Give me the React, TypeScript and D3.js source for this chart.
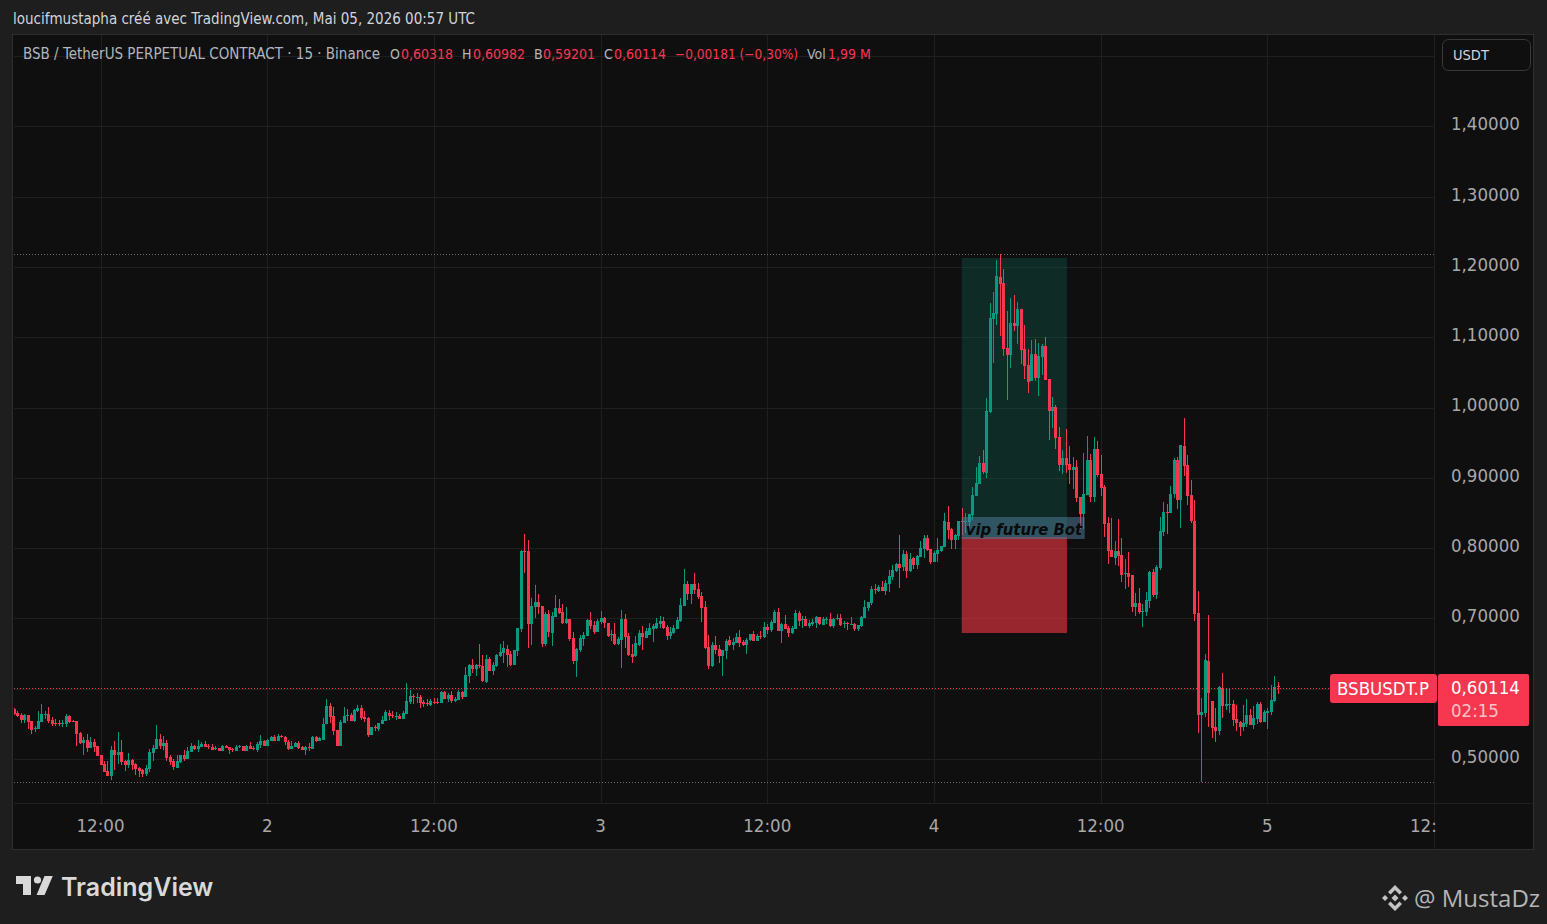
import { useEffect, useRef } from "react";
import * as d3 from "d3";

type Ohlc = [number, number, number, number];

// 15 min candles, open / high / low / close
const day1: Ohlc[] = [
  [.5712,.5731,.5627,.5636],[.5655,.5683,.5603,.5612],[.5627,.5655,.5513,.5555],[.5555,.5641,.5508,.5627],[.5627,.5627,.5427,.5522],[.5541,.5541,.5356,.5413],[.5432,.5470,.5389,.5442],[.5427,.5683,.5427,.5541],
  [.5527,.5783,.5527,.5641],[.5631,.5683,.5570,.5641],[.5641,.5740,.5513,.5541],[.5555,.5598,.5470,.5499],[.5513,.5570,.5470,.5499],[.5508,.5555,.5470,.5499],[.5494,.5555,.5456,.5513],[.5499,.5641,.5456,.5612],
  [.5612,.5627,.5513,.5527],[.5541,.5555,.5522,.5527],[.5541,.5541,.5186,.5356],[.5371,.5385,.5214,.5228],[.5228,.5314,.5058,.5271],[.5271,.5356,.5100,.5157],[.5157,.5314,.5157,.5243],[.5243,.5285,.5100,.5172],
  [.5186,.5186,.5044,.5044],[.5058,.5058,.4916,.4916],[.4930,.4972,.4816,.4816],[.4830,.4972,.4759,.4759],[.4759,.5186,.4702,.5129],[.5129,.5257,.4844,.5058],[.5058,.5385,.4930,.5100],[.5100,.5271,.4916,.4958],
  [.4972,.4987,.4830,.4916],[.4916,.5086,.4873,.4987],[.4987,.5001,.4844,.4916],[.4930,.4944,.4773,.4859],[.4873,.4887,.4745,.4830],[.4844,.4859,.4745,.4788],[.4788,.4916,.4759,.4873],[.4859,.5143,.4816,.5100],
  [.5086,.5200,.4972,.5157],[.5143,.5484,.5143,.5285],[.5285,.5356,.5143,.5186],[.5186,.5328,.5129,.5228],[.5228,.5271,.4972,.5015],[.5029,.5058,.4916,.4958],[.4972,.5001,.4844,.4887],[.4873,.5058,.4873,.4972],
  [.4958,.5058,.4944,.5058],[.5058,.5129,.4972,.5001],[.5001,.5172,.5001,.5115],[.5100,.5228,.5100,.5186],[.5186,.5200,.5129,.5143],[.5143,.5271,.5100,.5186],[.5172,.5243,.5172,.5214],[.5214,.5257,.5172,.5172],
  [.5186,.5214,.5143,.5172],[.5172,.5214,.5129,.5129],[.5143,.5186,.5129,.5157],[.5157,.5157,.5115,.5115],[.5115,.5200,.5115,.5186],[.5186,.5200,.5157,.5157],[.5172,.5172,.5072,.5129],[.5143,.5157,.5100,.5129],
  [.5115,.5200,.5115,.5172],[.5172,.5200,.5157,.5186],[.5186,.5186,.5115,.5115],[.5115,.5200,.5115,.5186],[.5186,.5243,.5143,.5143],[.5157,.5186,.5129,.5143],[.5129,.5243,.5100,.5214],[.5200,.5342,.5157,.5257],
  [.5257,.5271,.5186,.5186],
];

const day2: Ohlc[] = [
  [.5186,.5285,.5186,.5271],[.5257,.5328,.5257,.5314],[.5314,.5342,.5257,.5257],[.5257,.5356,.5257,.5328],[.5328,.5342,.5300,.5314],[.5314,.5328,.5200,.5243],[.5243,.5271,.5129,.5143],[.5143,.5257,.5143,.5186],
  [.5172,.5243,.5172,.5228],[.5228,.5257,.5143,.5157],[.5172,.5186,.5129,.5129],[.5129,.5186,.5058,.5172],[.5172,.5228,.5115,.5162],[.5143,.5328,.5143,.5314],[.5314,.5328,.5243,.5257],[.5257,.5314,.5257,.5300],
  [.5271,.5584,.5271,.5499],[.5499,.5854,.5499,.5754],[.5754,.5797,.5513,.5598],[.5612,.5740,.5342,.5399],[.5413,.5413,.5185,.5185],[.5185,.5555,.5185,.5526],[.5512,.5740,.5512,.5612],[.5612,.5711,.5541,.5626],
  [.5626,.5654,.5541,.5541],[.5541,.5711,.5526,.5697],[.5683,.5768,.5669,.5725],[.5725,.5768,.5555,.5583],[.5598,.5683,.5526,.5569],[.5583,.5598,.5313,.5342],[.5342,.5455,.5342,.5455],[.5455,.5484,.5399,.5441],
  [.5427,.5512,.5399,.5512],[.5498,.5612,.5498,.5555],[.5541,.5697,.5541,.5669],[.5654,.5697,.5555,.5612],[.5626,.5683,.5583,.5612],[.5598,.5669,.5555,.5612],[.5612,.5640,.5569,.5569],[.5569,.5683,.5569,.5654],
  [.5640,.6081,.5640,.5825],[.5811,.5982,.5782,.5896],[.5896,.5925,.5782,.5882],[.5868,.5939,.5797,.5882],[.5882,.5910,.5725,.5797],[.5811,.5839,.5740,.5782],[.5797,.5853,.5754,.5782],[.5768,.5853,.5754,.5825],
  [.5811,.5868,.5782,.5797],[.5811,.5868,.5782,.5797],[.5797,.5967,.5797,.5953],[.5953,.5967,.5853,.5853],[.5853,.5939,.5811,.5910],[.5910,.5967,.5797,.5825],[.5825,.5882,.5811,.5853],[.5839,.5982,.5839,.5953],
  [.5953,.5967,.5853,.5882],[.5883,.6309,.5883,.6196],[.6182,.6352,.6082,.6338],[.6338,.6423,.6224,.6281],[.6281,.6352,.6182,.6338],[.6338,.6637,.6295,.6324],[.6324,.6480,.6096,.6110],[.6096,.6480,.6082,.6423],
  [.6423,.6452,.6253,.6253],[.6253,.6381,.6196,.6338],[.6324,.6494,.6309,.6480],[.6466,.6637,.6452,.6523],[.6508,.6679,.6366,.6580],[.6565,.6622,.6309,.6480],[.6494,.6537,.6324,.6338],[.6338,.6551,.6338,.6551],
  [.6537,.6864,.6466,.6864],[.6850,.7973,.6807,.7959],[.7959,.8201,.7646,.7945],[.7959,.8116,.6580,.6921],[.6921,.7291,.6622,.7177],[.7163,.7476,.7006,.7234],[.7234,.7348,.7063,.7163],[.7177,.7177,.6594,.6637],
  [.6637,.7092,.6608,.7063],[.7063,.7120,.6736,.6807],[.6793,.7092,.6608,.7035],[.7020,.7333,.7020,.7149],[.7149,.7277,.7063,.7078],[.7092,.7205,.6921,.6935],[.6935,.7163,.6921,.6992],[.6992,.6992,.6679,.6708],
  [.6722,.6807,.6352,.6395],[.6395,.6580,.6167,.6565],[.6551,.6765,.6523,.6722],[.6708,.6807,.6608,.6765],[.6750,.6992,.6750,.6978],[.6978,.7092,.6850,.6893],[.6907,.6964,.6779,.6807],[.6807,.6992,.6807,.6964],
];

const day3: Ohlc[] = [
  [.6949,.7106,.6921,.7006],[.7006,.7020,.6864,.6935],[.6935,.6935,.6736,.6750],[.6765,.6836,.6679,.6779],[.6779,.6935,.6622,.6637],[.6637,.6736,.6622,.6708],[.6693,.7120,.6295,.6992],[.6992,.7063,.6580,.6736],
  [.6750,.6793,.6466,.6480],[.6494,.6637,.6366,.6452],[.6466,.6750,.6452,.6651],[.6622,.6836,.6608,.6793],[.6793,.6893,.6551,.6736],[.6722,.6864,.6722,.6821],[.6765,.6935,.6765,.6864],[.6850,.6921,.6665,.6892],
  [.6864,.7006,.6850,.6935],[.6921,.7035,.6864,.6964],[.6964,.7021,.6850,.6864],[.6878,.6907,.6693,.6750],[.6750,.6878,.6708,.6807],[.6793,.6907,.6779,.6864],[.6850,.7021,.6850,.6978],[.6964,.7291,.6949,.7191],
  [.7177,.7703,.7177,.7490],[.7490,.7533,.7262,.7348],[.7348,.7490,.7205,.7490],[.7490,.7646,.7348,.7404],[.7419,.7504,.7277,.7305],[.7319,.7376,.6949,.7149],[.7163,.7248,.6565,.6580],[.6594,.6765,.6281,.6324],
  [.6324,.6665,.6310,.6622],[.6622,.6750,.6494,.6551],[.6565,.6622,.6366,.6466],[.6466,.6551,.6181,.6551],[.6537,.6708,.6423,.6679],[.6693,.6750,.6608,.6622],[.6622,.6722,.6551,.6665],[.6651,.6793,.6651,.6736],
  [.6736,.6836,.6594,.6651],[.6665,.6693,.6608,.6622],[.6622,.6722,.6494,.6693],[.6693,.6779,.6679,.6779],[.6779,.6821,.6679,.6679],[.6679,.6779,.6679,.6750],[.6750,.6821,.6708,.6736],[.6736,.6949,.6722,.6878],
  [.6878,.6921,.6779,.6836],[.6836,.6978,.6807,.6949],[.6935,.7120,.6935,.7092],[.7092,.7149,.6821,.6821],[.6821,.6935,.6651,.6921],[.6921,.7049,.6850,.6850],[.6864,.6892,.6736,.6793],[.6793,.6892,.6779,.6864],
  [.6850,.7120,.6850,.7077],[.7077,.7106,.6892,.6964],[.6978,.7035,.6864,.6992],[.6992,.7035,.6892,.6892],[.6892,.6978,.6864,.6935],[.6921,.6992,.6892,.6949],[.6935,.7035,.6864,.7021],[.7021,.7021,.6907,.6921],
  [.6907,.7021,.6907,.6992],[.6978,.7021,.6921,.6992],[.6992,.7077,.6878,.6892],[.6892,.7006,.6864,.6992],[.6992,.7063,.6978,.7006],[.7006,.7063,.6892,.6907],[.6921,.6964,.6864,.6935],[.6935,.6949,.6836,.6921],
  [.6907,.7021,.6907,.6921],[.6921,.6935,.6821,.6850],[.6850,.6907,.6821,.6907],[.6892,.7035,.6878,.7021],[.7006,.7262,.7006,.7163],[.7149,.7234,.7106,.7234],[.7220,.7461,.7191,.7419],[.7419,.7490,.7348,.7404],
  [.7390,.7475,.7376,.7447],[.7447,.7533,.7390,.7390],[.7390,.7547,.7333,.7504],[.7490,.7689,.7376,.7603],[.7589,.7760,.7547,.7689],[.7675,.7788,.7660,.7774],[.7774,.8186,.7433,.7717],[.7731,.7973,.7675,.7916],
  [.7916,.7959,.7575,.7675],[.7675,.7931,.7660,.7845],[.7859,.7874,.7703,.7760],[.7760,.7902,.7703,.7888],[.7874,.8101,.7874,.8002],[.7987,.8186,.7859,.8144],[.8144,.8186,.7959,.7973],[.7987,.7987,.7774,.7803],
];

const day4: Ohlc[] = [
  [.7803,.7959,.7803,.7931],[.7916,.8144,.7803,.7973],[.7959,.8030,.7945,.8030],[.8016,.8499,.8016,.8386],[.8371,.8599,.8130,.8258],[.8272,.8286,.7987,.8115],[.8115,.8201,.7987,.8186],[.8172,.8386,.8115,.8386],
  [.8387,.8572,.8188,.8373],[.8373,.8496,.8211,.8387],[.8373,.8487,.8259,.8487],[.8472,.8870,.8401,.8757],[.8742,.9155,.8742,.8927],[.8913,.9311,.8913,.9212],[.9212,.9397,.9055,.9084],[.9070,1.0136,.8999,.9951],
  [.9937,1.1487,.9923,1.1273],[1.1259,1.1643,1.0634,1.1345],[1.1330,1.2098,1.1174,1.1871],[1.1856,1.2184,1.1018,1.1757],[1.1771,1.1970,1.0733,1.0833],[1.0847,1.1373,1.0107,1.0747],[1.0747,1.1558,1.0563,1.1202],[1.1202,1.1601,1.1089,1.1160],
  [1.1160,1.1501,1.0904,1.1401],[1.1401,1.1401,1.0619,1.0818],[1.0833,1.1174,1.0406,1.0591],[1.0605,1.0833,1.0207,1.0363],[1.0378,1.0961,1.0378,1.0762],[1.0762,1.0975,1.0378,1.0420],[1.0420,1.0918,1.0164,1.0733],[1.0719,1.0904,1.0463,1.0875],
  [1.0875,1.1003,1.0392,1.0392],[1.0406,1.0406,.9539,.9951],[.9951,1.0150,.9709,1.0008],[1.0008,1.0036,.9411,.9567],[.9581,.9724,.9098,.9183],[.9182,.9396,.9054,.9282],[.9282,.9694,.9069,.9182],[.9197,.9452,.8912,.9111],
  [.9111,.9296,.8841,.9154],[.9154,.9253,.8656,.8713],[.8727,.8727,.8272,.8486],[.8486,.9353,.8272,.8770],[.8756,.9595,.8756,.9253],[.9253,.9339,.8656,.8727],[.8727,.9580,.8656,.9410],[.9410,.9524,.9012,.9040],
  [.9054,.9325,.8742,.8855],[.8870,.8898,.8159,.8343],[.8358,.8443,.7775,.7960],[.7974,.8429,.7874,.7874],[.7860,.8102,.7760,.7960],[.7960,.8414,.7746,.7888],[.7903,.8144,.7519,.7618],[.7632,.7846,.7419,.7647],
  [.7647,.7945,.7448,.7590],[.7618,.7618,.7092,.7163],[.7163,.7362,.7035,.7220],[.7220,.7433,.7064,.7092],[.7092,.7206,.6879,.7106],[.7092,.7377,.7035,.7263],[.7249,.7675,.7149,.7661],[.7661,.7704,.7305,.7334],
  [.7334,.7760,.7277,.7732],[.7718,.8443,.7689,.8244],[.8230,.8656,.8173,.8514],[.8514,.8628,.8201,.8500],[.8500,.8884,.8500,.8770],[.8770,.9282,.8713,.9253],[.9253,.9296,.8557,.8685],[.8685,.9467,.8286,.9467],
  [.9452,.9851,.9026,.9168],[.9182,.9325,.8614,.8742],[.8756,.8969,.8358,.8386],[.8386,.8685,.6964,.7064],[.7078,.7391,.5371,.5627],[.5627,.5869,.4675,.5670],[.5656,.6495,.5599,.6410],[.6395,.7049,.5457,.5940],
  [.5826,.5826,.5300,.5443],[.5457,.5727,.5243,.5400],[.5400,.6040,.5343,.6026],[.6011,.6225,.5585,.5755],[.5755,.6011,.5699,.5784],[.5770,.5997,.5656,.5784],[.5784,.5841,.5471,.5556],[.5571,.5770,.5400,.5514],
  [.5528,.5542,.5329,.5457],[.5457,.5770,.5400,.5514],[.5500,.5855,.5457,.5627],[.5627,.5713,.5485,.5485],[.5485,.5755,.5428,.5585],[.5571,.5812,.5500,.5784],[.5784,.5812,.5514,.5528],[.5528,.5699,.5528,.5670],
];

const day5: Ohlc[] = [
  [.5656,.5727,.5428,.5684],[.5670,.6054,.5627,.5841],[.5826,.6182,.5812,.6026],[.60318,.60982,.59201,.60114],
];

const priceTicks = [0.5, 0.6, 0.7, 0.8, 0.9, 1.0, 1.1, 1.2, 1.3, 1.4];
const priceLabelTicks = [0.5, 0.7, 0.8, 0.9, 1.0, 1.1, 1.2, 1.3, 1.4];
const timeBars = [25, 73, 121, 169, 217, 265, 313, 361, 409];
const timeLabels = ["12:00", "2", "12:00", "3", "12:00", "4", "12:00", "5", "12:00"];

// long position drawing
const positionBars = [273, 303.3];
const targetPrice = 1.2127;
const entryPrice = 0.8158;
const stopPrice = 0.6792;

const legend = [
  { x: 390, text: "O", red: false }, { x: 401, text: "0,60318", red: true },
  { x: 462, text: "H", red: false }, { x: 473, text: "0,60982", red: true },
  { x: 534, text: "B", red: false }, { x: 543, text: "0,59201", red: true },
  { x: 604, text: "C", red: false }, { x: 614, text: "0,60114", red: true },
  { x: 675, text: "−0,00181 (−0,30%)", red: true, length: 123 },
  { x: 807, text: "Vol", red: false }, { x: 828, text: "1,99 M", red: true },
];

const GREEN = "#089981";
const RED = "#f7374f";
const FONT = "'DejaVu Sans', sans-serif";

export default function App() {
  const ref = useRef<SVGSVGElement>(null);

  useEffect(() => {
    if (!ref.current) return;
    const svg = d3.select(ref.current);
    svg.selectAll("*").remove();
    svg.style("font-stretch", "condensed");

    const width = 1547;
    const height = 924;
    const pane = { left: 14, top: 35, right: 1434, bottom: 803 };

    const candles = [...day1, ...day2, ...day3, ...day4, ...day5];

    const x = d3.scaleLinear().domain([25, 409]).range([100.5, 1434]);
    const y = d3.scaleLinear().domain([0.5, 1.4]).range([759, 126.3]);

    // Background
    svg.append("rect").attr("width", width).attr("height", height).attr("fill", "#1e1e1e");
    svg.append("rect")
      .attr("x", 12.5).attr("y", 34.5).attr("width", 1521).attr("height", 815)
      .attr("fill", "#0f0f0f").attr("stroke", "#2e2e2e");

    svg.append("clipPath").attr("id", "pane")
      .append("rect")
      .attr("x", pane.left).attr("y", pane.top)
      .attr("width", pane.right - pane.left).attr("height", pane.bottom - pane.top);
    svg.append("clipPath").attr("id", "timeaxis")
      .append("rect")
      .attr("x", pane.left).attr("y", pane.bottom)
      .attr("width", 1436 - pane.left).attr("height", 46);

    const plot = svg.append("g").attr("clip-path", "url(#pane)");

    // Grid
    plot.append("g").selectAll("line")
      .data(timeBars.slice(0, 8))
      .join("line")
      .attr("x1", d => Math.round(x(d)) + 0.5).attr("x2", d => Math.round(x(d)) + 0.5)
      .attr("y1", pane.top).attr("y2", pane.bottom)
      .attr("stroke", "#1f1f1f");

    plot.append("g").selectAll("line")
      .data([...priceTicks, 1.5])
      .join("line")
      .attr("x1", pane.left).attr("x2", pane.right)
      .attr("y1", d => Math.round(y(d)) + 0.5).attr("y2", d => Math.round(y(d)) + 0.5)
      .attr("stroke", "#1f1f1f");

    // Position tool
    const boxLeft = x(positionBars[0]);
    const boxWidth = x(positionBars[1]) - boxLeft;
    plot.append("rect")
      .attr("x", boxLeft).attr("y", y(targetPrice))
      .attr("width", boxWidth).attr("height", y(entryPrice) - y(targetPrice))
      .attr("fill", GREEN).attr("fill-opacity", 0.2);
    plot.append("rect")
      .attr("x", boxLeft).attr("y", y(entryPrice))
      .attr("width", boxWidth).attr("height", y(stopPrice) - y(entryPrice))
      .attr("fill", "#f23645").attr("fill-opacity", 0.6);

    // Candles
    const bars = plot.append("g").attr("shape-rendering", "crispEdges")
      .selectAll("g")
      .data(candles)
      .join("g")
      .attr("fill", d => (d[3] >= d[0] ? GREEN : RED));

    bars.append("rect")
      .attr("x", (d, i) => Math.round(x(i)))
      .attr("y", d => y(d[1]))
      .attr("width", 1)
      .attr("height", d => y(d[2]) - y(d[1]));

    bars.append("rect")
      .attr("x", (d, i) => Math.round(x(i)) - 1)
      .attr("y", d => Math.round(y(Math.max(d[0], d[3]))))
      .attr("width", 3)
      .attr("height", d => Math.max(1, Math.round(Math.abs(y(d[0]) - y(d[3])))));

    // Label of the position tool, drawn over the candles
    plot.append("rect")
      .attr("x", boxLeft).attr("y", 517)
      .attr("width", 123).attr("height", 22)
      .attr("fill", "#4f7f9f").attr("fill-opacity", 0.5);
    plot.append("text")
      .attr("x", boxLeft + 4).attr("y", 535)
      .attr("font-family", FONT)
      .attr("font-style", "italic").attr("font-weight", "bold").attr("font-size", 16.5)
      .attr("fill", "#0a0a0a")
      .text("vip future Bot");

    // High, low and last price lines
    const last = candles[candles.length - 1];
    const guides = [
      { price: d3.max(candles, d => d[1]) as number, color: "#6e6e6e" },
      { price: d3.min(candles, d => d[2]) as number, color: "#6e6e6e" },
      { price: last[3], color: RED },
    ];
    svg.append("g").attr("shape-rendering", "crispEdges").selectAll("line")
      .data(guides)
      .join("line")
      .attr("x1", pane.left).attr("x2", pane.right)
      .attr("y1", d => Math.round(y(d.price)) + 0.5).attr("y2", d => Math.round(y(d.price)) + 0.5)
      .attr("stroke", d => d.color)
      .attr("stroke-dasharray", "1 2");

    // Axis separators
    svg.append("line")
      .attr("x1", 1434.5).attr("x2", 1434.5).attr("y1", pane.top).attr("y2", 849)
      .attr("stroke", "#1f1f1f");
    svg.append("line")
      .attr("x1", pane.left).attr("x2", 1533).attr("y1", pane.bottom + 0.5).attr("y2", pane.bottom + 0.5)
      .attr("stroke", "#1f1f1f");

    // Price axis
    svg.append("g")
      .attr("transform", "translate(1451,-2.5)")
      .call(
        d3.axisRight(y)
          .tickValues(priceLabelTicks)
          .tickSize(0)
          .tickPadding(0)
          .tickFormat(d => (d as number).toFixed(5).replace(".", ","))
      )
      .call(g => g.select(".domain").remove())
      .selectAll("text")
      .attr("font-family", FONT).attr("font-size", 18.5)
      .attr("fill", "#a8a8a8");

    // Time axis
    svg.append("g")
      .attr("clip-path", "url(#timeaxis)")
      .append("g")
      .attr("transform", "translate(-0.5,819)")
      .call(
        d3.axisBottom(x)
          .tickValues(timeBars)
          .tickSize(0)
          .tickPadding(0)
          .tickFormat((d, i) => timeLabels[i])
      )
      .call(g => g.select(".domain").remove())
      .selectAll("text")
      .attr("font-family", FONT).attr("font-size", 18.5)
      .attr("fill", "#a8a8a8");

    // Last price labels
    svg.append("rect")
      .attr("x", 1330).attr("y", 674).attr("width", 107).attr("height", 29).attr("rx", 3)
      .attr("fill", RED);
    svg.append("text")
      .attr("x", 1337).attr("y", 695)
      .attr("font-family", FONT).attr("font-size", 18.5).attr("fill", "#fff")
      .text("BSBUSDT.P");
    svg.append("rect")
      .attr("x", 1438).attr("y", 674).attr("width", 91).attr("height", 52).attr("rx", 2)
      .attr("fill", RED);
    svg.append("text")
      .attr("x", 1451).attr("y", 693.5)
      .attr("font-family", FONT).attr("font-size", 18.5).attr("fill", "#fff")
      .text(last[3].toFixed(5).replace(".", ","));
    svg.append("text")
      .attr("x", 1451).attr("y", 716.5)
      .attr("font-family", FONT).attr("font-size", 18.5).attr("fill", "#fff").attr("fill-opacity", 0.7)
      .text("02:15");

    // Currency button
    svg.append("rect")
      .attr("x", 1442.5).attr("y", 39.5).attr("width", 88).attr("height", 31).attr("rx", 6)
      .attr("fill", "#0f0f0f").attr("stroke", "#3a3a3a");
    svg.append("text")
      .attr("x", 1453).attr("y", 60)
      .attr("font-family", FONT).attr("font-size", 14.5).attr("fill", "#d1d4dc")
      .text("USDT");

    // Header and legend
    svg.append("text")
      .attr("x", 13).attr("y", 24)
      .attr("font-family", FONT).attr("font-size", 15).attr("fill", "#d1d4dc")
      .text("loucifmustapha créé avec TradingView.com, Mai 05, 2026 00:57 UTC");
    svg.append("text")
      .attr("x", 23).attr("y", 59)
      .attr("font-family", FONT).attr("font-size", 15).attr("fill", "#b2b5be")
      .text("BSB / TetherUS PERPETUAL CONTRACT · 15 · Binance");
    const items = svg.append("g").selectAll("text")
      .data(legend)
      .join("text")
      .attr("x", d => d.x).attr("y", 59)
      .attr("font-family", FONT).attr("font-size", 14)
      .attr("fill", d => (d.red ? RED : "#b2b5be"))
      .text(d => d.text);
    items.filter(d => d.length !== undefined)
      .attr("textLength", d => d.length as number)
      .attr("lengthAdjust", "spacingAndGlyphs");

    // TradingView logo
    const logo = svg.append("g").attr("fill", "#d9d9d9");
    logo.append("path").attr("d", "M16 876H31V895H23V884H16Z");
    logo.append("circle").attr("cx", 37.5).attr("cy", 880).attr("r", 3.6);
    logo.append("path").attr("d", "M44.5 876H52.8L44.6 895H36.6Z");
    logo.append("text")
      .attr("x", 61).attr("y", 896)
      .attr("font-family", "Inter, sans-serif").attr("font-weight", 600).attr("font-size", 25)
      .style("font-stretch", "normal")
      .text("TradingView");

    // Watermark
    const mark = svg.append("g").attr("fill", "#c4c4c4").attr("transform", "translate(1395,898)");
    mark.append("path").attr("d", "M0 -13L7 -6L4.5 -3.5L0 -8L-4.5 -3.5L-7 -6Z");
    mark.append("path").attr("d", "M0 13L7 6L4.5 3.5L0 8L-4.5 3.5L-7 6Z");
    mark.append("path").attr("d", "M0 -3.5L3.5 0L0 3.5L-3.5 0Z");
    mark.append("path").attr("d", "M-13 0L-10 -3L-7 0L-10 3Z");
    mark.append("path").attr("d", "M13 0L10 -3L7 0L10 3Z");
    svg.append("text")
      .attr("x", 1414).attr("y", 907)
      .attr("font-family", "'Open Sans', sans-serif").attr("font-size", 24).attr("fill", "#b4b4b4")
      .style("font-stretch", "normal")
      .text("@ MustaDz");
  }, []);

  return <svg ref={ref} width={1547} height={924} style={{ position: "absolute", left: 0, top: 0 }} />;
}
